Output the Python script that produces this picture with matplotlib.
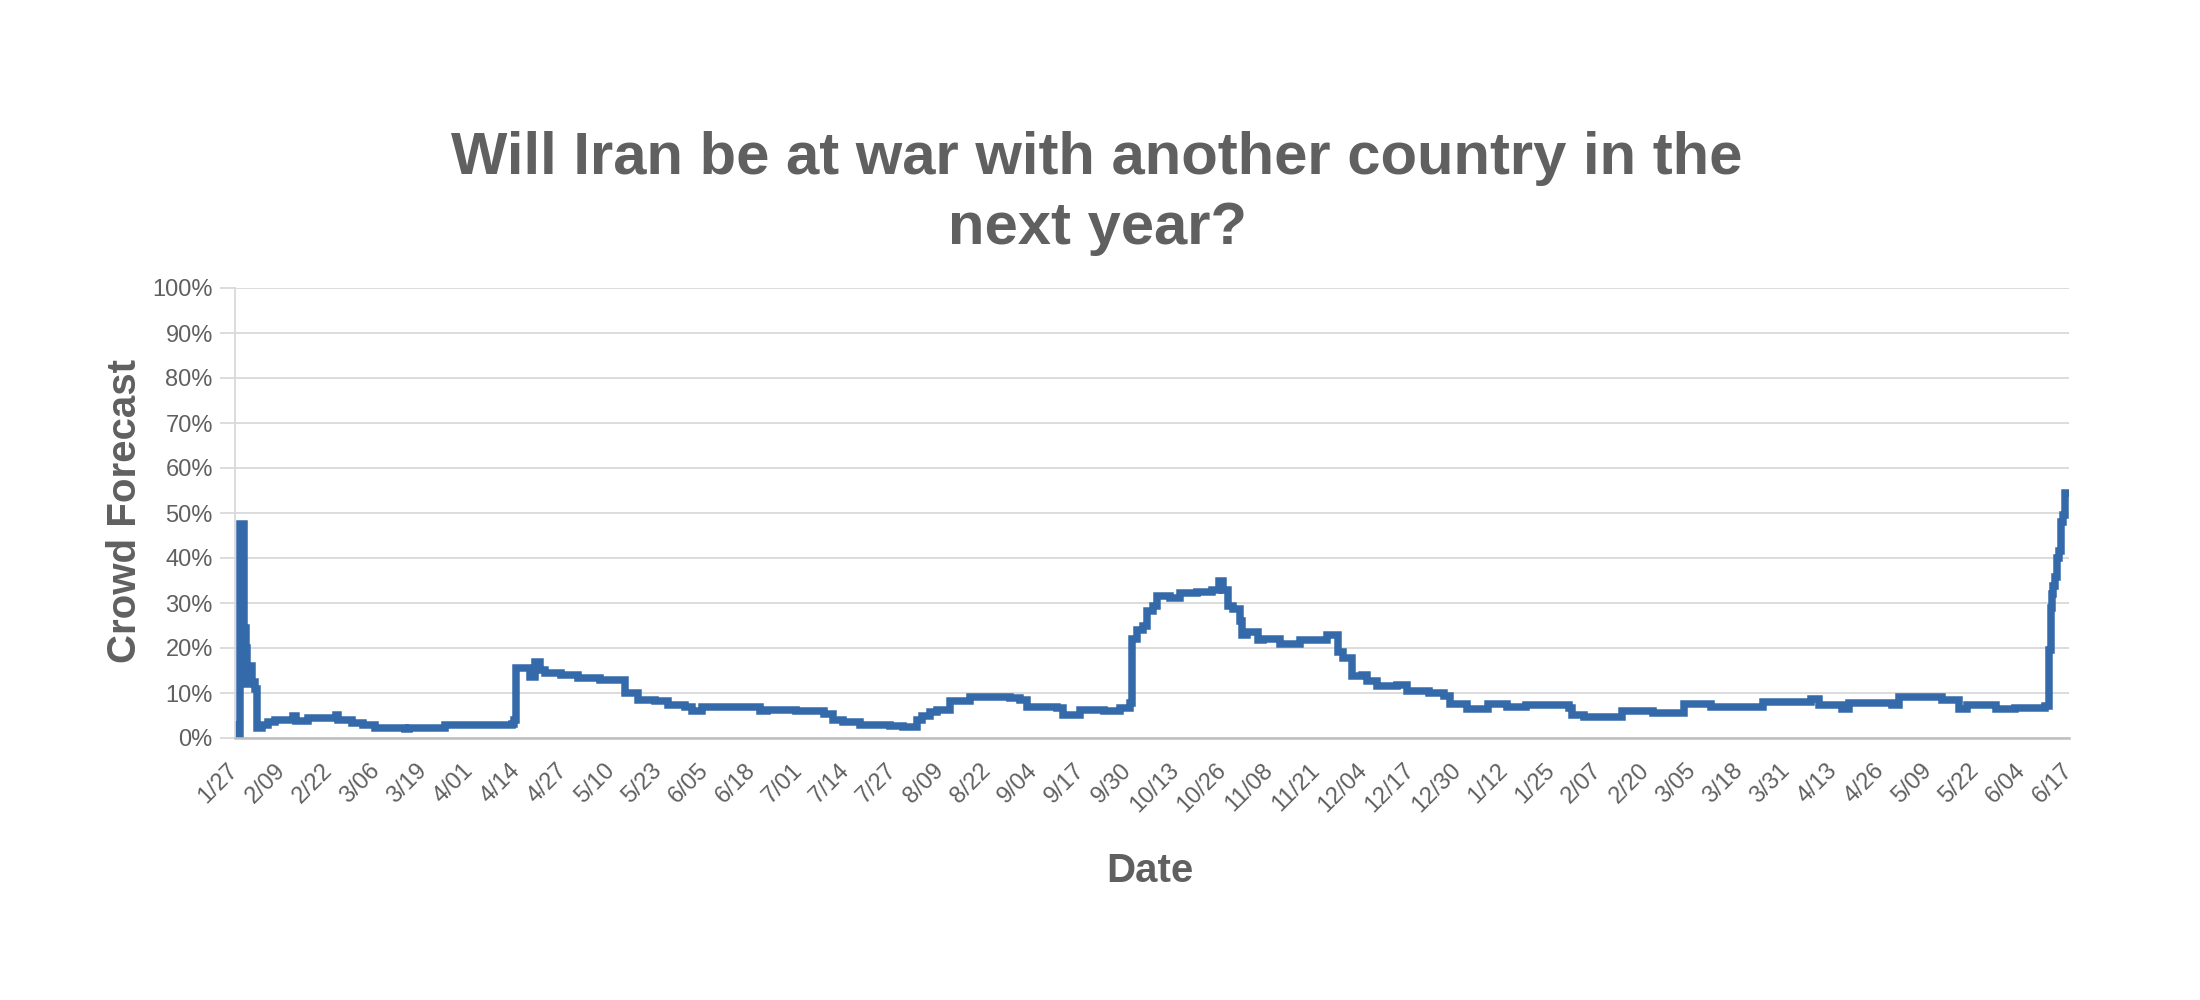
import numpy as np
import matplotlib
matplotlib.use('Agg')
from matplotlib import pyplot as plt
from matplotlib.ticker import FuncFormatter

# Crowd forecast: day offset from 1/27 and forecast (%)
days = [0, 0.5, 1.4, 2.6, 3.0, 3.4, 4.0, 4.8, 5.6, 6.2, 7.4, 9.0, 11.0, 16.1,
        17.0, 20.3, 27.8, 28.5, 32.3, 35.5, 38.7, 47.0, 48.0, 54.4, 58.0,
        76.5, 77.0, 77.6, 81.6, 82.9, 84.2, 85.7, 90.0, 94.9, 101.0, 107.8,
        111.5, 116.0, 119.8, 124.5, 126.3, 129.0, 138.0, 145.2, 147.0, 155.0,
        162.7, 165.4, 168.0, 172.8, 181.1,
        184.8, 188.5, 190.0, 192.1, 194.0, 197.7, 203.2, 214.3, 217.0, 218.9,
        227.2, 229.0, 233.6, 240.1, 244.7, 247.4, 248.1, 249.3, 251.0, 252.1,
        253.9, 254.8, 258.5, 261.3, 265.9, 270.0, 271.9, 273.2, 274.6, 276.0,
        277.9, 278.3, 279.7, 282.9, 284.3, 288.9, 294.4, 301.8, 305.0, 306.4,
        308.7, 311.5, 312.9, 315.6, 321.2, 323.9, 330.0, 334.1, 335.9, 340.5,
        346.3, 351.6, 357.0, 368.7, 369.7, 372.9, 383.5, 392.1, 400.6, 408.0,
        422.4, 429.3, 435.7, 437.8, 444.2, 446.3, 458.0, 460.1, 471.8, 476.6,
        478.7, 486.7, 492.0, 500.5, 501.6, 502.0, 502.3, 502.7, 503.2, 503.8,
        504.3, 504.7, 505.3, 506.0, 507.0]
forecast = [3.0, 0.5, 47.5, 24.5, 20.0, 12.0, 16.0, 12.5, 11.0, 2.2, 3.0, 3.6,
            4.1, 4.8, 3.7, 4.5, 5.2, 4.1, 3.4, 2.8, 2.2, 1.9, 2.2, 2.3, 2.9,
            3.2, 4.0, 15.5, 13.5, 17.0, 15.2, 14.4, 14.0, 13.3, 13.0, 10.0,
            8.5, 8.2, 7.4, 7.0, 6.0, 6.8, 6.9, 5.9, 6.2, 6.0,
            5.4, 3.9, 3.6, 2.9, 2.7,
            2.4, 4.0, 4.8, 5.8, 6.3, 8.3, 9.2, 8.9, 8.4, 7.0,
            6.6, 5.2, 6.3, 6.1, 6.7, 7.8, 22.0, 23.9, 25.0, 28.3,
            29.4, 31.6, 31.1, 32.3, 32.5, 33.0, 34.9, 33.0, 29.4, 28.7,
            26.1, 22.8, 23.5, 21.7, 22.1, 21.0, 21.7, 22.8, 19.2, 17.7,
            13.7, 14.0, 12.6, 11.5, 11.7, 10.4, 10.0, 9.3, 7.5, 6.5,
            7.6, 6.8, 7.4, 6.6, 5.2, 4.7, 5.9, 5.5, 7.5, 7.0,
            8.1, 7.9, 8.6, 7.4, 6.4, 7.7, 7.4, 9.2, 8.5, 6.4,
            7.4, 6.4, 6.6, 7.1, 19.5, 29.0, 32.0, 33.8, 35.7, 40.0,
            41.5, 48.0, 49.6, 54.4, 54.4]

tick_labels = ['1/27', '2/09', '2/22', '3/06', '3/19', '4/01', '4/14', '4/27',
               '5/10', '5/23', '6/05', '6/18', '7/01', '7/14', '7/27', '8/09',
               '8/22', '9/04', '9/17', '9/30', '10/13', '10/26', '11/08',
               '11/21', '12/04', '12/17', '12/30', '1/12', '1/25', '2/07',
               '2/20', '3/05', '3/18', '3/31', '4/13', '4/26', '5/09', '5/22',
               '6/04', '6/17']
tick_days = np.arange(len(tick_labels)) * 13

grey = '#606060'
plt.rcParams['font.family'] = ['Liberation Sans', 'DejaVu Sans']

fig = plt.figure(figsize=(22, 10), dpi=100)
ax = fig.add_axes([235/2200, 1 - 738/1000, (2069 - 235)/2200, 450/1000])

ax.plot(days, forecast, drawstyle='steps-post', color='#3469AA', lw=5.4,
        solid_joinstyle='miter')

ax.set_xlim(0, 507)
ax.set_ylim(0, 100)
ax.set_yticks(np.arange(0, 101, 10))
ax.yaxis.set_major_formatter(FuncFormatter(lambda v, p: '%d%%' % v))
ax.set_xticks(tick_days)
ax.set_xticklabels(tick_labels, rotation=45, ha='right', va='center',
                   rotation_mode='anchor')

ax.grid(axis='y', color='#D9D9D9', lw=1.3)
ax.set_axisbelow(True)
for s in ['top', 'right']:
    ax.spines[s].set_visible(False)
ax.spines['left'].set_color('#D9D9D9')
ax.spines['left'].set_linewidth(1.3)
ax.spines['bottom'].set_color('#BFBFBF')
ax.spines['bottom'].set_linewidth(1.8)
ax.tick_params(axis='y', length=11, width=1.3, color='#D9D9D9', pad=5,
               labelsize=17, labelcolor=grey)
ax.tick_params(axis='x', length=0, pad=21, labelsize=17, labelcolor=grey)

fig.text(1097/2200, 1 - 158/1000, 'Will Iran be at war with another country in the',
         ha='center', va='center', fontsize=43, fontweight='bold', color=grey)
fig.text(1097/2200, 1 - 228/1000, 'next year?',
         ha='center', va='center', fontsize=43, fontweight='bold', color=grey)
fig.text(1150/2200, 1 - 871/1000, 'Date', ha='center', va='center',
         fontsize=29, fontweight='bold', color=grey)
fig.text(125/2200, 1 - 511/1000, 'Crowd Forecast', ha='center', va='center',
         rotation=90, fontsize=29, fontweight='bold', color=grey)

fig.savefig('out.png', dpi=100, facecolor='white')
